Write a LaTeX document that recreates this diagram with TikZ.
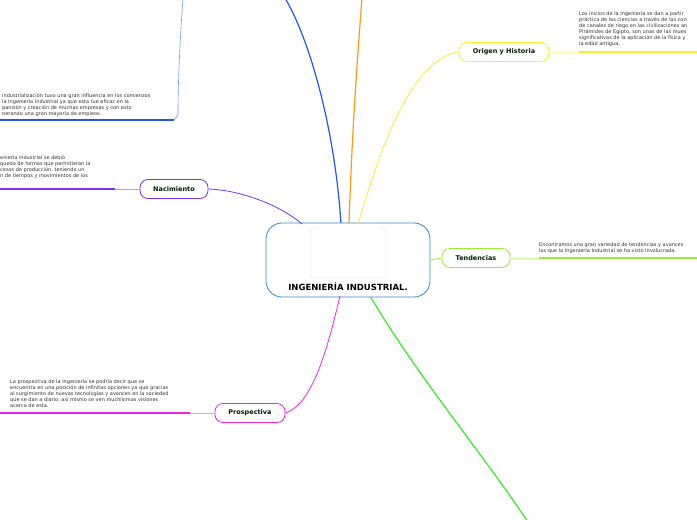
\documentclass[tikz,border=0pt]{standalone}
\usepackage{fontspec}
\setmainfont{DejaVu Sans}
\begin{document}
\begin{tikzpicture}[x=1pt,y=-1pt,
  topic/.style={draw,rounded corners=8pt,line width=0.8pt,fill=white,minimum height=19pt,font=\bfseries\fontsize{6.5}{8}\selectfont,text=black!70!green!40!black},
  note/.style={font=\fontsize{5}{6}\selectfont,text=black!80,align=left,anchor=north west,inner sep=0pt}]
\useasboundingbox (0,0) rectangle (697,520);
\clip (0,0) rectangle (697,520);
\definecolor{cyel}{HTML}{F5F02A}\definecolor{cgrn}{HTML}{99EE33}\definecolor{cpur}{HTML}{7733EE}
\definecolor{cmag}{HTML}{EE22EE}\definecolor{cblu}{HTML}{2255EE}\definecolor{cora}{HTML}{FF9911}
\definecolor{cneo}{HTML}{33EE22}\definecolor{ccen}{HTML}{3388CC}
% branches
\draw[cblu,line width=1.2pt] (341,224) .. controls (335,130) and (310,40) .. (285,-2);
\draw[cora,line width=1.2pt] (349,224) .. controls (352,130) and (358,50) .. (362,-2);
\draw[cneo,line width=1.2pt] (370,296) .. controls (420,380) and (480,450) .. (528,522);
\draw[cblu!60,line width=0.6pt] (183,-2) .. controls (180,40) and (178,80) .. (178,115) -- (174,120);
\draw[cblu,line width=1.2pt] (174,120) -- (0,120);
\node[note] at (2,93) {industrialización tuvo una gran influencia en los comienzos\\ la Ingeniería Industrial ya que esta fue eficaz en la\\ pansión y creación de muchas empresas y con esto\\ nerando una gran mayoría de empleos.};
% central
\node[draw=ccen,line width=0.8pt,rounded corners=16pt,minimum width=164pt,minimum height=74pt,fill=white] (c) at (348,260) {};
\node[draw=black!10,rounded corners=4pt,minimum width=75pt,minimum height=50pt] (img) at (348.5,253) {};
\node[font=\bfseries\fontsize{8.5}{10}\selectfont] (t) at (348,287) {INGENIERÍA INDUSTRIAL.};
% Origen
\node[topic,draw=cyel,minimum width=90pt] (o) at (504,52) {Origen y Historia};
\draw[cyel,line width=0.8pt] (358,224) .. controls (380,150) and (410,60) .. (o.west);
\draw[cyel!40,line width=0.8pt] (o.east) -- (579,52);
\draw[cyel,line width=1.6pt] (579,52) -- (697,52);
\node[note] at (579,11) {Los inicios de la Ingeniería se dan a partir\\ práctica de las ciencias a través de las con\\ de canales de riego en las civilizaciones an\\ Pirámides de Egipto, son unas de las mues\\ significativas de la aplicación de la física y\\ la edad antigua,};
% Tendencias
\node[topic,draw=cgrn,minimum width=68pt] (te) at (476,258) {Tendencias};
\draw[cgrn,line width=0.8pt] (c.east) -- (te.west);
\draw[cgrn!50,line width=0.8pt] (te.east) -- (539,258);
\draw[cgrn,line width=1.6pt] (539,258) -- (697,258);
\node[note] at (539,242) {Encontramos una gran variedad de tendencias y avances\\ los que la Ingeniería Industrial se ha visto involucrada.};
% Nacimiento
\node[topic,draw=cpur,minimum width=68pt] (n) at (174,189) {Nacimiento};
\draw[cpur,line width=0.8pt] (302,224) .. controls (280,205) and (240,190) .. (n.east);
\draw[cpur!50,line width=0.8pt] (n.west) -- (115,189);
\draw[cpur,line width=1.6pt] (115,189) -- (0,189);
\node[note] at (0,155) {eniería industrial se debió\\ queda de formas que permitieran la\\ cesos de producción, teniendo un\\ n de tiempos y movimientos de los};
% Prospectiva
\node[topic,draw=cmag,minimum width=70pt] (p) at (250,413) {Prospectiva};
\draw[cmag,line width=0.8pt] (340,296) .. controls (325,360) and (310,405) .. (p.east);
\draw[cmag!50,line width=0.8pt] (p.west) -- (190,413);
\draw[cmag,line width=1.6pt] (190,413) -- (0,413);
\node[note] at (10,379) {La prospectiva de la Ingeniería se podría decir que se\\ encuentra en una posición de infinitas opciones ya que gracias\\ al surgimiento de nuevas tecnologías y avances en la sociedad\\ que se dan a diario, así mismo se ven muchísimas visiones\\ acerca de esta.};
\end{tikzpicture}
\end{document}
